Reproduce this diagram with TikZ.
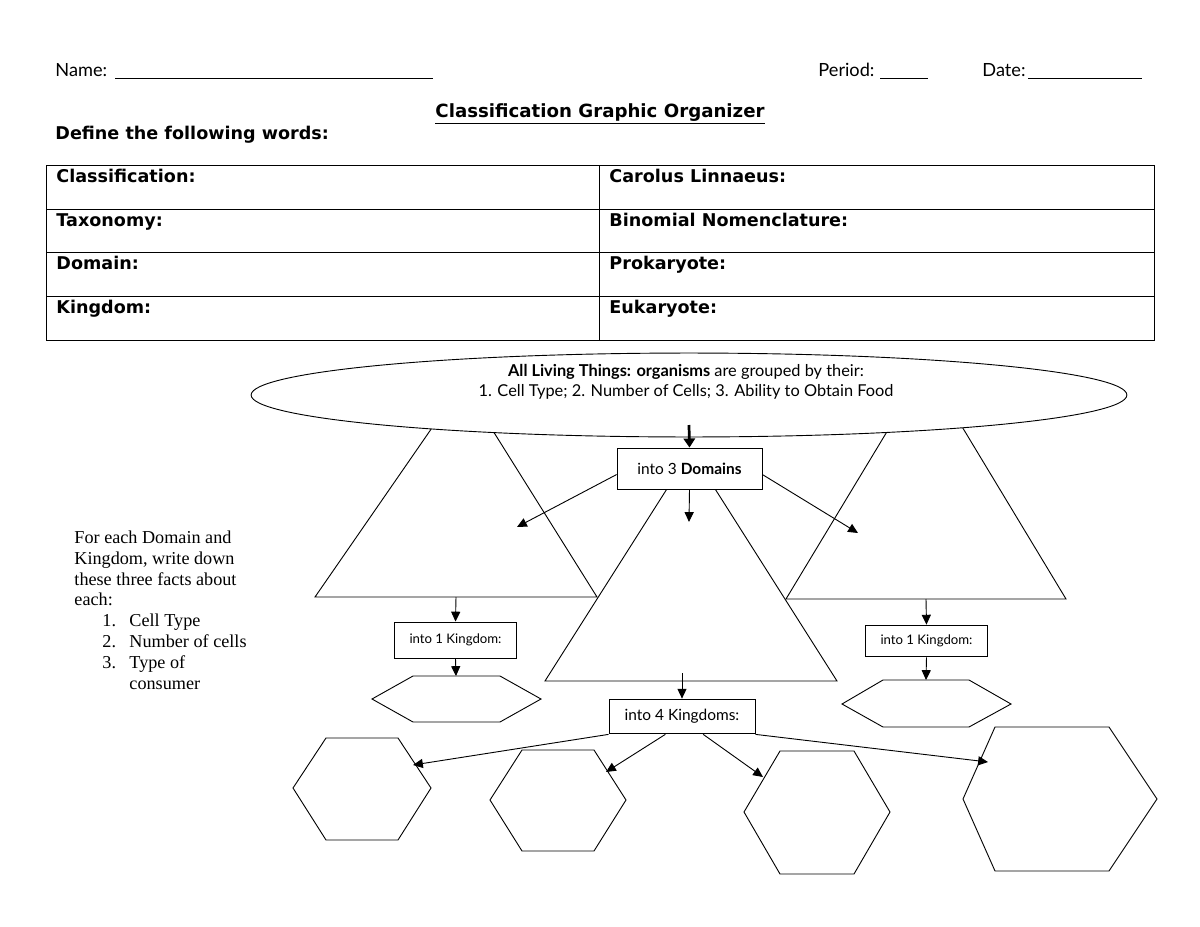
\documentclass[tikz,border=0pt]{standalone}
\usepackage{fontspec}
\setmainfont{Liberation Serif}
\newfontfamily\verd{DejaVu Sans}
\newfontfamily\comic{Lato}
\usetikzlibrary{arrows.meta,shapes.geometric,calc}
\begin{document}
\begin{tikzpicture}[x=0.66pt,y=-0.66pt,line width=0.6pt,
  arr/.style={-{Triangle[length=6.5pt,width=6pt]}},
  box/.style={draw,fill=white,inner sep=0pt,font=\comic\fontsize{10.2}{12}\selectfont},
  lbl/.style={anchor=base west,inner sep=0pt,font=\verd\bfseries\fontsize{11.6}{13}\selectfont},
  hdr/.style={anchor=base west,inner sep=0pt,font=\comic\fontsize{12}{14}\selectfont},
  tm/.style={anchor=base west,inner sep=0pt,font=\fontsize{12}{14}\selectfont}]
\useasboundingbox (0,0) rectangle (1200,927);
% header
\node[hdr] (name) at (55,76) {Name:};
\draw (115,78) -- (433,78);
\node[hdr] (period) at (818,76) {Period:};
\draw (880,78) -- (928,78);
\node[hdr] (date) at (982,76) {Date:};
\draw (1028,78) -- (1142,78);
\node[anchor=base,inner sep=0pt,font=\verd\bfseries\fontsize{12}{14}\selectfont] (title) at (600,117) {\underline{Classification Graphic Organizer}};
\node[lbl] (define) at (55,139) {Define the following words:};
% table
\draw (46,165) rectangle (1154,340);
\foreach \yy in {209,252,296} \draw (46,\yy) -- (1154,\yy);
\draw (599,165) -- (599,340);
\node[lbl] (c1) at (56,182) {Classification:};
\node[lbl] (c2) at (56,226) {Taxonomy:};
\node[lbl] (c3) at (56,269) {Domain:};
\node[lbl] (c4) at (56,313) {Kingdom:};
\node[lbl] (d1) at (609,182) {Carolus Linnaeus:};
\node[lbl] (d2) at (609,226) {Binomial Nomenclature:};
\node[lbl] (d3) at (609,269) {Prokaryote:};
\node[lbl] (d4) at (609,313) {Eukaryote:};
% triangles
\draw (463,383) -- (315,597) -- (597,597) -- cycle;
\draw (691,451) -- (545,681) -- (837,681) -- cycle;
\draw (926,367) -- (786,599) -- (1066,599) -- cycle;
% ellipse
\node[draw,fill=white,ellipse,minimum width=578pt,minimum height=55.4pt,inner sep=0pt] (all) at (689,395) {};
\node[align=center,inner sep=0pt,font=\comic\fontsize{10.8}{13.2}\selectfont] (allt) at (686,382)
  {\textbf{All Living Things: organisms} are grouped by their:\\1. Cell Type; 2. Number of Cells; 3. Ability to Obtain Food};
% boxes
\node[box,minimum width=95.7pt,minimum height=27pt] (dom) at (689.5,468.5) {into 3 \textbf{Domains}};
\node[box,minimum width=80pt,minimum height=23.8pt,font=\comic\fontsize{8.7}{10}\selectfont] (k1) at (455.5,640) {into 1 Kingdom:};
\node[box,minimum width=80pt,minimum height=21pt,font=\comic\fontsize{8.7}{10}\selectfont] (k2) at (926.5,641) {into 1 Kingdom:};
\node[box,minimum width=96.4pt,minimum height=23pt] (k4) at (682,716.5) {into 4 Kingdoms:};
% coordinates
\coordinate (top) at (689,425);
\coordinate (t1) at (517,527);
\coordinate (t2) at (689,522);
\coordinate (t3) at (858,533);
\coordinate (b1) at (456,597);
\coordinate (b2) at (682,673);
\coordinate (b3) at (926,599);
\coordinate (h1) at (456,676);
\coordinate (h2) at (926,680);
\coordinate (g1) at (413,765);
\coordinate (g2) at (606,772);
\coordinate (g3) at (763,777);
\coordinate (g4) at (988,762);
% arrows
\draw[-{Triangle[length=6pt 0,width=7.5pt 0]},line width=1.8pt] (top) -- (dom.north);
\draw[arr] ([yshift=-4pt]dom.west) -- (t1);
\draw[arr] (dom.south) -- (t2);
\draw[arr] ([yshift=-4pt]dom.east) -- (t3);
\draw[arr] (b1) -- (k1.north);
\draw[arr] (k1.south) -- (h1);
\draw[arr] (b3) -- (k2.north);
\draw[arr] (k2.south) -- (h2);
\draw[arr] (b2) -- (k4.north);
\draw[arr] (k4.south west) -- (g1);
\draw[arr] ([xshift=-11pt]k4.south) -- (g2);
\draw[arr] ([xshift=14pt]k4.south) -- (g3);
\draw[arr] (k4.south east) -- (g4);
% hexagons
\draw (372,699) -- (413,676) -- (500,676) -- (541,699) -- (500,722) -- (413,722) -- cycle;
\draw (842,704) -- (883,680) -- (969,680) -- (1011,704) -- (969,727) -- (883,727) -- cycle;
\draw (293,788) -- (326,738) -- (398,738) -- (431,788) -- (398,840) -- (326,840) -- cycle;
\draw (490,800) -- (522,750) -- (594,750) -- (626,800) -- (594,851) -- (522,851) -- cycle;
\draw (744,812) -- (780,751) -- (854,751) -- (890,812) -- (854,874) -- (780,874) -- cycle;
\draw (963,799) -- (995,727) -- (1109,727) -- (1157,799) -- (1109,871) -- (995,871) -- cycle;
% left text
\node[tm] (l1) at (74,543) {For each Domain and};
\node[tm] (l2) at (74,564) {Kingdom, write down};
\node[tm] (l3) at (74,585) {these three facts about};
\node[tm] (l4) at (74,605) {each:};
\node[tm] (n1) at (102,626) {1.};
\node[tm] (n2) at (102,647) {2.};
\node[tm] (n3) at (102,668) {3.};
\node[tm] (i1) at (129,626) {Cell Type};
\node[tm] (i2) at (129,647) {Number of cells};
\node[tm] (i3) at (129,668) {Type of};
\node[tm] (i4) at (129,689) {consumer};
\end{tikzpicture}
\end{document}
